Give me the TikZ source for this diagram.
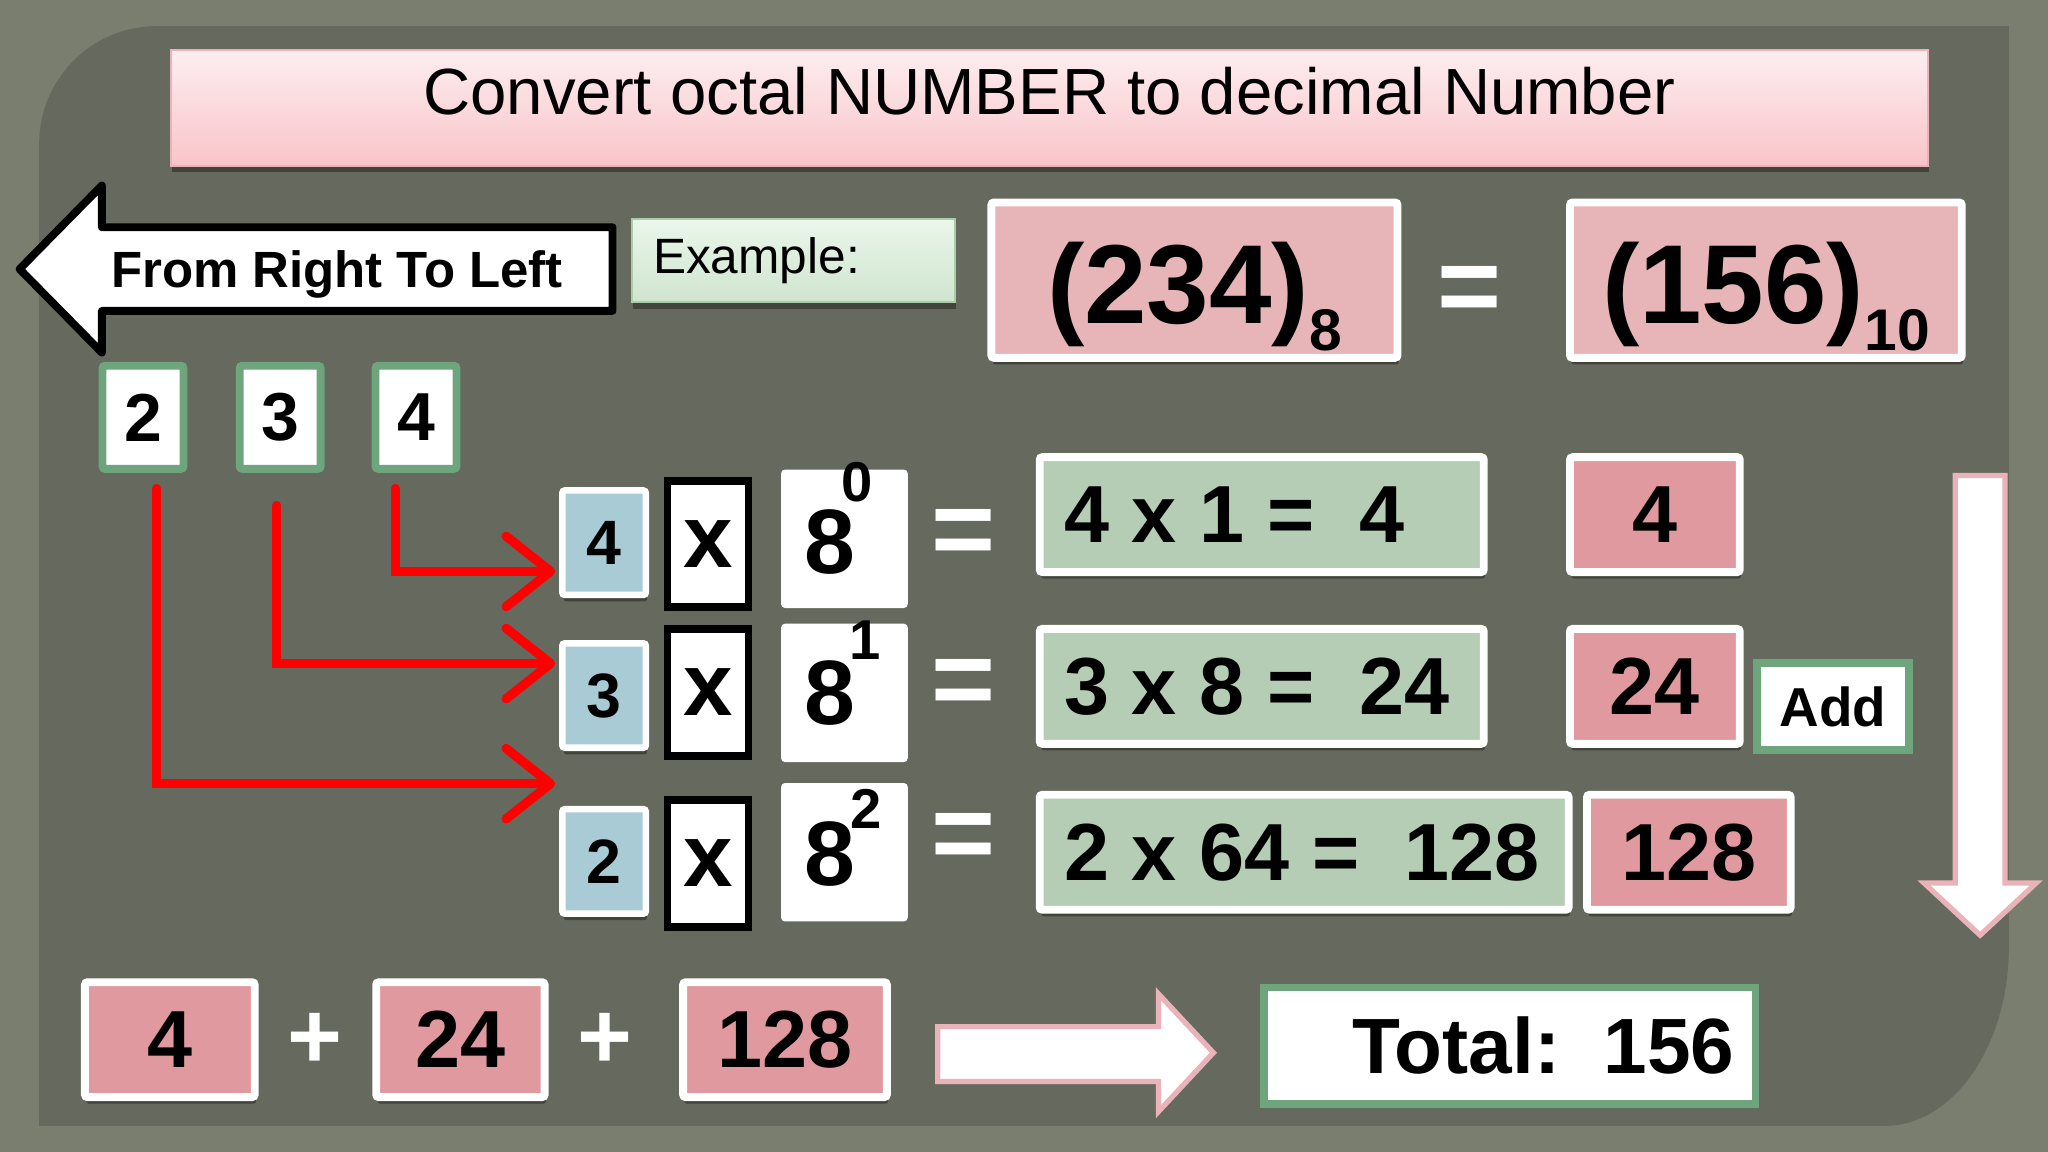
\documentclass[tikz,border=0pt]{standalone}
\usepackage{fontspec}
\setmainfont{Liberation Sans}
\usetikzlibrary{arrows.meta,calc,shadows}
\definecolor{outerbg}{HTML}{7A7E6F}
\definecolor{panelcol}{HTML}{66695D}
\definecolor{pinkA}{HTML}{E7B5B8}
\definecolor{pinkB}{HTML}{E0999E}
\definecolor{blueF}{HTML}{A9CBD5}
\definecolor{greenF}{HTML}{B4CDB4}
\definecolor{greenB}{HTML}{6FA57C}
\definecolor{pinkEdge}{HTML}{E9B3B9}
\definecolor{titleTop}{HTML}{FDEEF0}
\definecolor{titleBot}{HTML}{F9C4C9}
\definecolor{exTop}{HTML}{EAF6EA}
\definecolor{exBot}{HTML}{CFE5CF}
\definecolor{exEdge}{HTML}{A9CCA9}
\newcommand\fsz[1]{\fontsize{#1}{#1}\selectfont}
\begin{document}
\begin{tikzpicture}[x=1pt,y=-1pt,
  every node/.style={inner sep=0pt},
  shadowed/.style={drop shadow={shadow xshift=1pt,shadow yshift=-5pt,opacity=0.35,fill=black}},
  wbox/.style={draw=white, line width=6pt, rounded corners=2pt, shadowed, font=\bfseries\fsz{62}},
  pinkbox/.style={wbox, fill=pinkB, minimum height=88pt},
  greenbox/.style={wbox, fill=greenF, minimum height=88pt, inner xsep=19pt},
  bluebox/.style={wbox, fill=blueF, line width=5pt, minimum width=64pt, minimum height=80pt, font=\bfseries\fsz{48}},
  digitbox/.style={draw=greenB, line width=6pt, rounded corners=2pt, fill=white, minimum width=62pt, minimum height=79pt, font=\bfseries\fsz{52}},
  xbox/.style={draw=black, line width=6pt, fill=white, minimum width=62pt, minimum height=97pt, font=\bfseries\fsz{68}},
  powbox/.style={fill=white, rounded corners=3pt, minimum width=97pt, minimum height=106pt},
  eight/.style={font=\bfseries\fsz{70}, anchor=base west},
  wsign/.style={text=white, font=\bfseries\fsz{84}},
  bigbox/.style={wbox, fill=pinkA, minimum width=311pt, minimum height=119pt, text height=93pt, text depth=26pt, font=\bfseries\fsz{86}},
  redarr/.style={draw=red, line width=7pt, line cap=round, -{Straight Barb[length=34pt,width=54pt,round]}},
  blockarr/.style={draw=pinkEdge, line width=4pt, fill=white},
  gbox/.style={draw=greenB, line width=6pt, fill=white}
]
\useasboundingbox (0,0) rectangle (1568,882);
\fill[outerbg] (0,0) rectangle (1568,882);
\fill[panelcol] (30,862) -- (30,110) arc[start angle=180,end angle=90,x radius=90pt,y radius=90pt]
  -- (1538,20) -- (1538,725) arc[start angle=0,end angle=-90,x radius=95pt,y radius=137pt] -- cycle;

% title
\node[draw=pinkEdge, line width=1.5pt, top color=titleTop, bottom color=titleBot, shadowed,
  minimum width=1345pt, text height=50pt, text depth=39pt, font=\fsz{50}]
  (title) at (803.5,82.5) {Convert octal NUMBER to decimal Number};

% from right to left arrow
\draw[line width=6pt, line join=round, fill=white]
  (15,206) -- (78,142) -- (78,174) -- (469,174) -- (469,238) -- (78,238) -- (78,270) -- cycle;
\node[font=\bfseries\fsz{39}] (rtl) at (258,210) {From Right To Left};

% example
\node[draw=exEdge, line width=1.5pt, top color=exTop, bottom color=exBot, shadowed,
  minimum width=247.5pt, minimum height=63.5pt, font=\fsz{38}]
  (ex) at (607.5,199.5) {\raisebox{-3pt}{\makebox[215pt][l]{Example:}}};

\node[bigbox] (oct) at (914.5,214.5) {(234)\raisebox{-20pt}{\fsz{45}8}};
\node[wsign] (eqtop) at (1125,226) {=};
\node[bigbox, minimum width=300pt] (dec) at (1352,214.5) {(156)\raisebox{-20pt}{\fsz{45}10}};

% digits
\node[digitbox] (d2) at (109.5,319.5) {2};
\node[digitbox] (d3) at (214.5,319.5) {3};
\node[digitbox] (d4) at (318.5,319.5) {4};

% blue boxes
\node[bluebox] (b4) at (462.5,415.5) {4};
\node[bluebox] (b3) at (462.5,532.5) {3};
\node[bluebox] (b2) at (462.5,659.5) {2};

% x boxes
\node[xbox] (x1) at (542,416.5) {x};
\node[xbox] (x2) at (542,530) {x};
\node[xbox] (x3) at (542,661) {x};

% powers
\node[powbox] (e0) at (646.5,412.5) {};
\node[powbox] (e1) at (646.5,530.5) {};
\node[powbox] (e2) at (646.5,652.5) {};
\node[eight] (n0) at (616,439) {8\kern-11pt\raisebox{55pt}{\fsz{43}0}};
\node[eight] (n1) at (616,555) {8\kern-5pt\raisebox{50pt}{\fsz{43}1}};
\node[eight] (n2) at (616,678) {8\kern-4pt\raisebox{44pt}{\fsz{43}2}};

\node[wsign] (eq1) at (738,412) {=};
\node[wsign] (eq2) at (738,527) {=};
\node[wsign] (eq3) at (738,645) {=};

% green products
\node[greenbox] (g1) at (966,394) {\makebox[302pt][l]{4 x 1 =\ \ 4}};
\node[greenbox] (g2) at (966,525.5) {\makebox[302pt][l]{3 x 8 =\ \ 24}};
\node[greenbox] (g3) at (998.5,652.5) {\makebox[367pt][l]{2 x 64 =\ \ 128}};

% pink results
\node[pinkbox, minimum width=130pt] (r1) at (1267,394) {4};
\node[pinkbox, minimum width=130pt] (r2) at (1267,525.5) {24};
\node[pinkbox, minimum width=156pt] (r3) at (1293,652.5) {128};

\node[gbox, minimum width=116pt, minimum height=67pt, font=\bfseries\fsz{42}] (add) at (1403.5,541) {Add};

% down arrow
\draw[blockarr] (1497,364) -- (1535,364) -- (1535,676) -- (1559,676) -- (1516,716)
  -- (1473,676) -- (1497,676) -- cycle;

% red arrows
\draw[redarr] ($(d4.south)+(-16,12)$) |- ($(b4.west)+(-3,22)$);
\draw[redarr] ($(d3.south)+(-2.5,25)$) |- ($(b3.west)+(-3,-24.5)$);
\coordinate (t2) at ($(b2.west)+(-3,-59.5)$);
\draw[redarr] ($(d2.south)+(10.5,12)$) |- (t2);

% bottom row
\node[pinkbox, minimum width=130pt] (q1) at (130,796) {4};
\node[wsign, font=\bfseries\fsz{72}] (plus1) at (241,797) {+};
\node[pinkbox, minimum width=129pt] (q2) at (352.5,796) {24};
\node[wsign, font=\bfseries\fsz{72}] (plus2) at (463,797) {+};
\node[pinkbox, minimum width=156pt] (q3) at (601,796) {128};

\draw[blockarr] (718,786) -- (887,786) -- (887,761) -- (929,806) -- (887,851)
  -- (887,828) -- (718,828) -- cycle;

\node[gbox, minimum width=376pt, minimum height=89pt, inner xsep=16pt,
  font=\bfseries\fsz{60}] (total) at (1156,800.5) {\makebox[344pt][r]{Total:\ \ 156}};
\end{tikzpicture}
\end{document}
